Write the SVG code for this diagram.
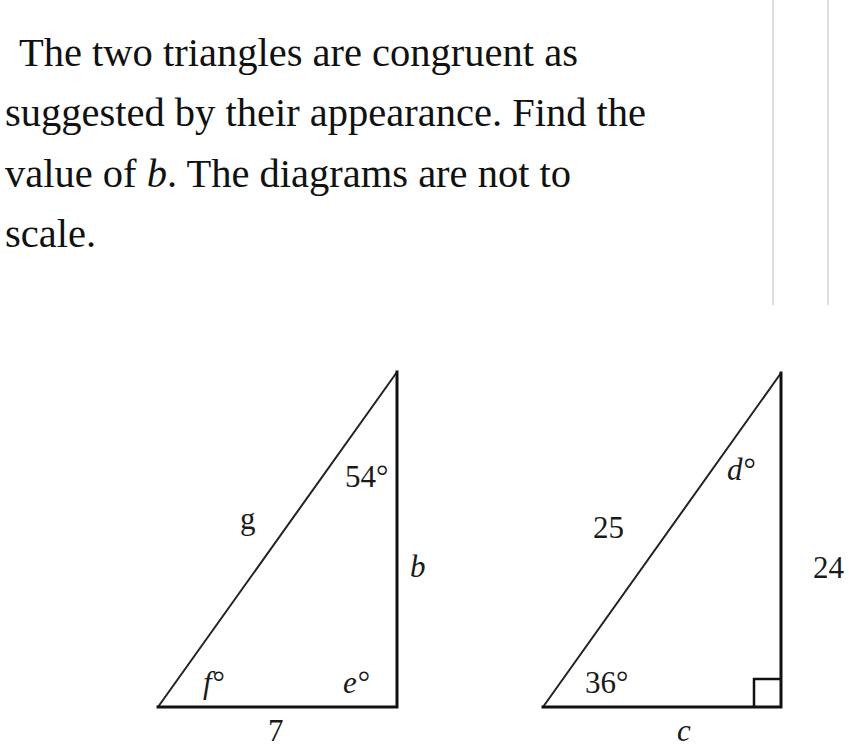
<svg xmlns="http://www.w3.org/2000/svg" width="849" height="747" viewBox="0 0 849 747">
  <style>
    .q { font-family: "Liberation Serif", "Times New Roman", serif; font-size: 40.5px; fill: #111; }
    .lbl { font-family: "Liberation Serif", "Times New Roman", serif; font-size: 31px; fill: #1a1a1a; }
    .it { font-style: italic; }
    .leg { stroke: #111; stroke-width: 3; fill: none; stroke-linecap: square; }
    .hyp { stroke: #222; stroke-width: 2; fill: none; stroke-linecap: round; }
    .ra { stroke: #111; stroke-width: 2.5; fill: none; }
    .sep { stroke: #dedede; stroke-width: 2; }
  </style>
  <rect width="849" height="747" fill="#ffffff"/>

  <g id="page-rules">
    <line class="sep" x1="773" y1="0" x2="773" y2="305"/>
    <line class="sep" x1="828" y1="0" x2="828" y2="305"/>
  </g>

  <g id="question">
    <text class="q" x="19" y="66">The two triangles are congruent as</text>
    <text class="q" x="5" y="126">suggested by their appearance. Find the</text>
    <text class="q" x="5" y="187">value of <tspan class="it">b</tspan>. The diagrams are not to</text>
    <text class="q" x="5" y="247">scale.</text>
  </g>

  <g id="connectors">
    <line class="hyp" x1="158" y1="707" x2="397" y2="372"/>
    <line class="hyp" x1="543" y1="707" x2="781" y2="373"/>
  </g>

  <g id="triangle-1">
    <polyline class="leg" points="397,372 397,707 158,707"/>
    <text class="lbl" x="345" y="487">54°</text>
    <text class="lbl" x="240" y="529">g</text>
    <text class="lbl it" x="410" y="577">b</text>
    <text class="lbl it" x="203" y="693">f°</text>
    <text class="lbl it" x="343" y="693">e°</text>
    <text class="lbl" x="268" y="741">7</text>
  </g>

  <g id="triangle-2">
    <polyline class="leg" points="781,373 781,707 543,707"/>
    <polyline class="ra" points="754,707 754,679 781,679"/>
    <text class="lbl it" x="727" y="480">d°</text>
    <text class="lbl" x="593" y="538">25</text>
    <text class="lbl" x="813" y="578">24</text>
    <text class="lbl" x="585" y="693">36°</text>
    <text class="lbl it" x="677" y="741">c</text>
  </g>
</svg>
